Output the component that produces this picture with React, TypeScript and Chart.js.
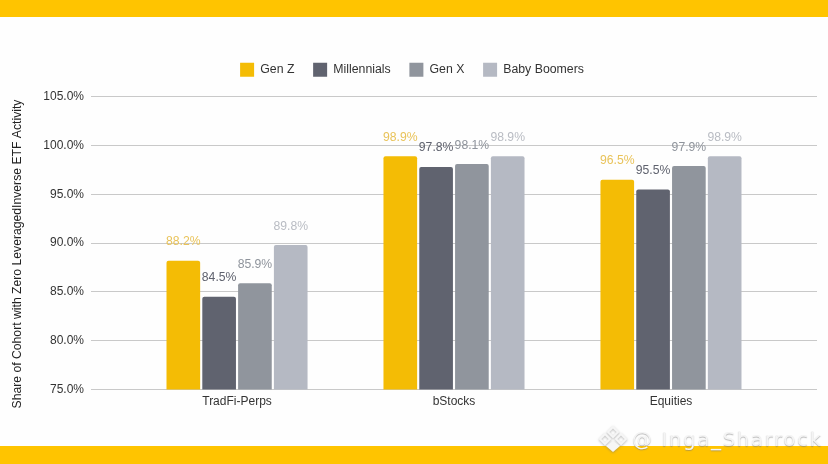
import { useEffect, useRef } from 'react';
import { Chart, registerables } from 'chart.js';

Chart.register(...registerables);

const CATEGORIES = ['TradFi-Perps', 'bStocks', 'Equities'];
const COHORTS = ['Gen Z', 'Millennials', 'Gen X', 'Baby Boomers'];
const GEN_Z = [88.2, 98.9, 96.5];
const MILLENNIALS = [84.5, 97.8, 95.5];
const GEN_X = [85.9, 98.1, 97.9];
const BABY_BOOMERS = [89.8, 98.9, 98.9];
const SERIES = [GEN_Z, MILLENNIALS, GEN_X, BABY_BOOMERS];
const BAR_COLORS = ['#f4bc05', '#60636f', '#90959d', '#b5b9c3'];
const LABEL_COLORS = ['#e9c35a', '#5f626e', '#8f949c', '#b9bcc3'];
const Y_TITLE = 'Share of Cohort with Zero LeveragedInverse ETF Activity';
const FONT = '"Liberation Sans", Arial, sans-serif';

const valueLabels = {
    id: 'valueLabels',
    afterInit(chart: any) {
        // keep the legend row up high, with more room under it
        const fit = chart.legend.fit;
        chart.legend.fit = function () {
            fit.call(this);
            this.height += 10;
        };
    },
    afterDatasetsDraw(chart: Chart) {
        const ctx = chart.ctx;
        ctx.save();
        ctx.font = `12.2px ${FONT}`;
        ctx.textAlign = 'center';
        ctx.textBaseline = 'alphabetic';
        chart.data.datasets.forEach((ds, i) => {
            chart.getDatasetMeta(i).data.forEach((bar, j) => {
                ctx.fillStyle = LABEL_COLORS[i];
                ctx.fillText(SERIES[i][j].toFixed(1) + '%', bar.x, bar.y - 15.5);
            });
        });
        // axis title sits lower than the plot centre
        ctx.translate(18, 254);
        ctx.rotate(-Math.PI / 2);
        ctx.textBaseline = 'middle';
        ctx.fillStyle = '#222222';
        ctx.font = `12.2px ${FONT}`;
        ctx.fillText(Y_TITLE, 0, 0);
        ctx.restore();
    },
};

export default function App() {
    const canvasRef = useRef<HTMLCanvasElement | null>(null);

    useEffect(() => {
        if (!canvasRef.current) return;
        const chart = new Chart(canvasRef.current, {
            type: 'bar',
            data: {
                labels: CATEGORIES.map((_, i) => i),
                datasets: COHORTS.map((name, i) => ({
                    label: name,
                    data: SERIES[i],
                    backgroundColor: BAR_COLORS[i],
                    borderRadius: 2,
                    borderSkipped: false,
                    categoryPercentage: 0.66,
                    barPercentage: 0.94,
                })),
            },
            options: {
                animation: false,
                responsive: false,
                layout: { padding: { top: 44, right: 11, bottom: 50, left: 7 } },
                plugins: {
                    tooltip: { enabled: false },
                    legend: {
                        position: 'top',
                        labels: {
                            boxWidth: 14,
                            boxHeight: 14,
                            padding: 18.7,
                            color: '#333333',
                            font: { family: FONT, size: 12.3 },
                        },
                    },
                },
                scales: {
                    x: {
                        type: 'linear',
                        offset: false,
                        min: -0.673,
                        max: 2.673,
                        grid: { display: false, tickLength: 0 },
                        border: { display: false },
                        afterBuildTicks: (axis: any) => {
                            axis.ticks = CATEGORIES.map((_, i) => ({ value: i }));
                        },
                        ticks: {
                            autoSkip: false,
                            maxRotation: 0,
                            padding: 5,
                            color: '#333333',
                            font: { family: FONT, size: 12 },
                            callback: (v: any) => CATEGORIES[v],
                        },
                    },
                    y: {
                        min: 75,
                        max: 105,
                        grid: { color: '#c9c9c9', drawTicks: false },
                        border: { display: false },
                        afterFit: (axis: any) => {
                            axis.width = 84;
                        },
                        ticks: {
                            stepSize: 5,
                            padding: 7,
                            color: '#333333',
                            font: { family: FONT, size: 12 },
                            callback: (v: any) => Number(v).toFixed(1) + '%',
                        },
                    },
                },
            },
            plugins: [valueLabels],
        });
        return () => chart.destroy();
    }, []);

    return (
        <div style={{ position: 'fixed', left: 0, top: 0, width: 828, height: 464, background: '#fefefe', overflow: 'hidden' }}>
            <canvas ref={canvasRef} width={828} height={464} style={{ position: 'absolute', left: 0, top: 0 }} />
            <div style={{ position: 'absolute', left: 0, top: 0, width: 828, height: 17, background: '#ffc400' }} />
            <div style={{ position: 'absolute', left: 0, top: 446, width: 828, height: 18, background: '#ffc400' }} />
            <svg width={30} height={30} viewBox="0 0 30 30" style={{ position: 'absolute', left: 598, top: 424, filter: 'drop-shadow(0 1px 1px rgba(120,120,120,0.5))' }}>
                <g fill="none" stroke="#f6f6f6" strokeWidth={2}>
                    <path d="M15 3 L20 8 L15 13 L10 8 Z" />
                    <path d="M7 10 L12 15 L7 20 L2 15 Z" />
                    <path d="M23 10 L28 15 L23 20 L18 15 Z" />
                </g>
                <path d="M15 17 L22 22 L15 28 L8 22 Z" fill="#f6f6f6" />
            </svg>
            <div style={{ position: 'absolute', left: 632, top: 427, fontFamily: '"DejaVu Sans", sans-serif', fontSize: 20, letterSpacing: 1.5, color: '#f4f4f4', textShadow: '0 1px 1px rgba(120,120,120,0.55)', whiteSpace: 'nowrap' }}>
                @ Inga_Sharrock
            </div>
        </div>
    );
}
